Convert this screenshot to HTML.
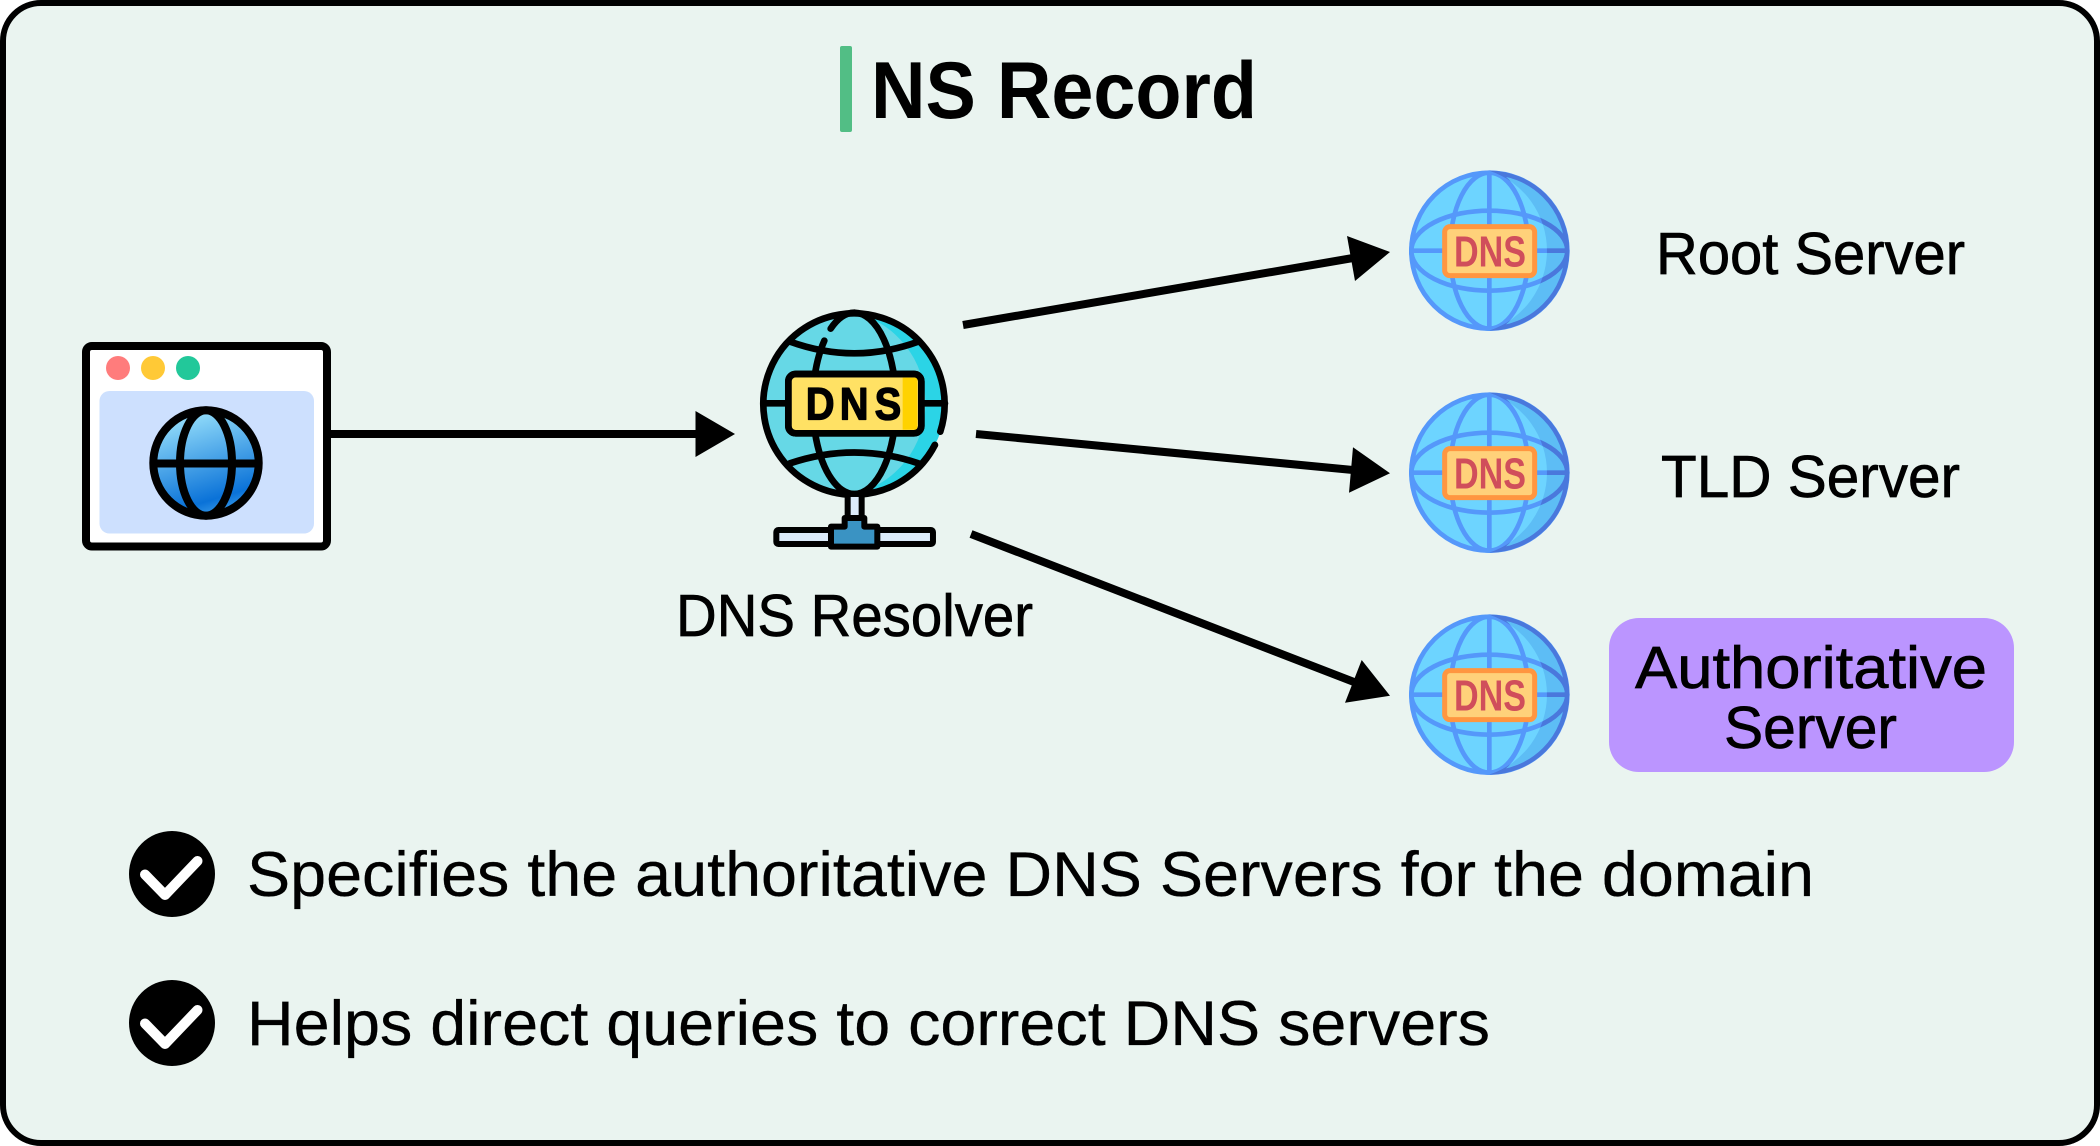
<!DOCTYPE html>
<html>
<head>
<meta charset="utf-8">
<style>
html,body{margin:0;padding:0;background:#fff;width:2100px;height:1146px;overflow:hidden}
svg{display:block}
text{font-family:"Liberation Sans",sans-serif;fill:#000}
</style>
</head>
<body>
<svg width="2100" height="1146" viewBox="0 0 2100 1146" xmlns="http://www.w3.org/2000/svg">
<defs>
  <linearGradient id="g1" x1="0.3" y1="0" x2="0.6" y2="1">
    <stop offset="0" stop-color="#9BE3FC"/>
    <stop offset="0.85" stop-color="#0A72D8"/>
    <stop offset="1" stop-color="#3A9BE8"/>
  </linearGradient>
  <clipPath id="cres"><path d="M298 47A240 240 0 0 1 298 527A253 253 0 0 0 298 47Z"/></clipPath>
  <g id="lines" fill="none" stroke-width="14">
    <circle cx="298" cy="287" r="234"/>
    <ellipse cx="298" cy="287" rx="118" ry="234"/>
    <ellipse cx="298" cy="287" rx="234" ry="120"/>
    <path d="M298 53V521M64 287H532"/>
  </g>
  <g id="globe">
    <circle cx="298" cy="287" r="240" fill="#6DD4FF"/>
    <path d="M298 47A240 240 0 0 1 298 527A253 253 0 0 0 298 47Z" fill="#5DBDF5"/>
    <use href="#lines" stroke="#5598FA"/>
    <use href="#lines" stroke="#4A78DC" clip-path="url(#cres)"/>
    <rect x="164" y="215" width="270" height="147" rx="16" fill="#FFD17A" stroke="#FF9640" stroke-width="15"/>
  </g>
</defs>

<rect x="3" y="3" width="2094" height="1140" rx="38" fill="#EAF4F0" stroke="#000" stroke-width="6"/>

<!-- Title -->
<rect x="840" y="46" width="12" height="86" rx="2" fill="#52BE85"/>
<text x="871" y="118" font-size="81" font-weight="700" textLength="386" lengthAdjust="spacingAndGlyphs">NS Record</text>

<!-- Browser -->
<rect x="86" y="346" width="241" height="200.5" rx="6" fill="#fff" stroke="#000" stroke-width="8"/>
<circle cx="118" cy="368" r="12" fill="#FF7C7C"/>
<circle cx="153" cy="368" r="12" fill="#FFC936"/>
<circle cx="188" cy="368" r="12" fill="#22C89A"/>
<rect x="99.5" y="391" width="214.5" height="142.5" rx="10" fill="#CDE0FE"/>
<circle cx="206" cy="463" r="52.7" fill="url(#g1)" stroke="#000" stroke-width="8"/>
<ellipse cx="206" cy="463" rx="26" ry="52.7" fill="none" stroke="#000" stroke-width="8"/>
<path d="M154 463.5H258" stroke="#000" stroke-width="8"/>

<!-- Arrows -->
<g stroke="#000" stroke-width="8" fill="none">
  <path d="M330 434H700"/>
  <path d="M963 325L1353 258"/>
  <path d="M976 434L1353 470"/>
  <path d="M971 534L1354 682"/>
</g>
<g fill="#000">
  <polygon points="735,434 695.5,411 695.5,457"/>
  <polygon points="1390,252 1347,236 1355,281"/>
  <polygon points="1390,473.3 1349,492.7 1353,447.3"/>
  <polygon points="1390,695.7 1345,702.7 1361.7,660"/>
</g>

<!-- DNS Resolver icon -->
<g transform="translate(740 290) scale(0.3333)">
  <circle cx="343" cy="340" r="272" fill="#66D8E6"/>
  <path d="M343 68A272 272 0 0 1 343 612A280 280 0 0 0 343 68Z" fill="#2BD4E6"/>
  <g fill="none" stroke="#000" stroke-width="20" stroke-linecap="round">
    <path d="M601 425A272 272 0 1 0 584.6 465"/>
    <path d="M584.6 465A272 272 0 0 1 540 527"/>
    <path d="M343 68A125 272 0 0 1 343 612A125 272 0 0 1 253 152"/>
    <path d="M272 116A125 272 0 0 1 343 68"/>
    <path d="M150 155Q343 225 535 155"/>
    <path d="M150 520Q343 455 535 520"/>
    <path d="M71 340H615"/>
  </g>
  <rect x="145" y="252" width="399" height="178" rx="22" fill="#FFE164" stroke="#000" stroke-width="20"/>
  <rect x="488" y="263" width="44" height="156" fill="#FFD200"/>
  <rect x="145" y="252" width="399" height="178" rx="22" fill="none" stroke="#000" stroke-width="20"/>
  <g transform="scale(0.88 1)">
    <text x="224" y="388" font-size="136" font-weight="700" stroke="#000" stroke-width="4" stroke-linejoin="round">D</text>
    <text x="340" y="388" font-size="136" font-weight="700" stroke="#000" stroke-width="4" stroke-linejoin="round">N</text>
    <text x="459" y="388" font-size="136" font-weight="700" stroke="#000" stroke-width="4" stroke-linejoin="round">S</text>
  </g>
  <rect x="323" y="612" width="42" height="80" fill="#DCEBFA" stroke="#000" stroke-width="18"/>
  <rect x="109" y="720" width="470" height="42" rx="6" fill="#DCEBFA" stroke="#000" stroke-width="18"/>
  <path d="M314 684H373V710H412V770H273V710H314Z" fill="#3A93C3" stroke="#000" stroke-width="18" stroke-linejoin="round"/>
</g>
<text x="676" y="636" font-size="59" stroke="#000" stroke-width="0.7" textLength="357" lengthAdjust="spacingAndGlyphs">DNS Resolver</text>

<!-- DNS globes -->
<g transform="translate(1390 155) scale(0.3333)">
  <use href="#globe"/>
  <text x="192" y="335" font-size="132" font-weight="700" style="fill:#D04E5B" textLength="216" lengthAdjust="spacingAndGlyphs">DNS</text>
</g>
<g transform="translate(1390 377) scale(0.3333)">
  <use href="#globe"/>
  <text x="192" y="335" font-size="132" font-weight="700" style="fill:#D04E5B" textLength="216" lengthAdjust="spacingAndGlyphs">DNS</text>
</g>
<g transform="translate(1390 599) scale(0.3333)">
  <use href="#globe"/>
  <text x="192" y="335" font-size="132" font-weight="700" style="fill:#D04E5B" textLength="216" lengthAdjust="spacingAndGlyphs">DNS</text>
</g>

<!-- Labels -->
<text x="1656" y="274" font-size="59" stroke="#000" stroke-width="0.7" textLength="309" lengthAdjust="spacingAndGlyphs">Root Server</text>
<text x="1661" y="497" font-size="59" stroke="#000" stroke-width="0.7" textLength="299" lengthAdjust="spacingAndGlyphs">TLD Server</text>
<rect x="1609" y="618" width="405" height="154" rx="30" fill="#BB95FF"/>
<text x="1635" y="688" font-size="59" stroke="#000" stroke-width="0.7" textLength="352" lengthAdjust="spacingAndGlyphs">Authoritative</text>
<text x="1724" y="748" font-size="59" stroke="#000" stroke-width="0.7" textLength="173" lengthAdjust="spacingAndGlyphs">Server</text>

<!-- Bullets -->
<circle cx="172" cy="874" r="43" fill="#000"/>
<path d="M145 874.5L165 895L197.5 861" fill="none" stroke="#fff" stroke-width="10" stroke-linecap="round" stroke-linejoin="round"/>
<text x="247" y="896" font-size="63" stroke="#000" stroke-width="0.3" textLength="1567" lengthAdjust="spacingAndGlyphs">Specifies the authoritative DNS Servers for the domain</text>

<circle cx="172" cy="1023" r="43" fill="#000"/>
<path d="M145 1023.5L165 1044L197.5 1010" fill="none" stroke="#fff" stroke-width="10" stroke-linecap="round" stroke-linejoin="round"/>
<text x="247" y="1045" font-size="63" stroke="#000" stroke-width="0.3" textLength="1243" lengthAdjust="spacingAndGlyphs">Helps direct queries to correct DNS servers</text>
</svg>
</body>
</html>
